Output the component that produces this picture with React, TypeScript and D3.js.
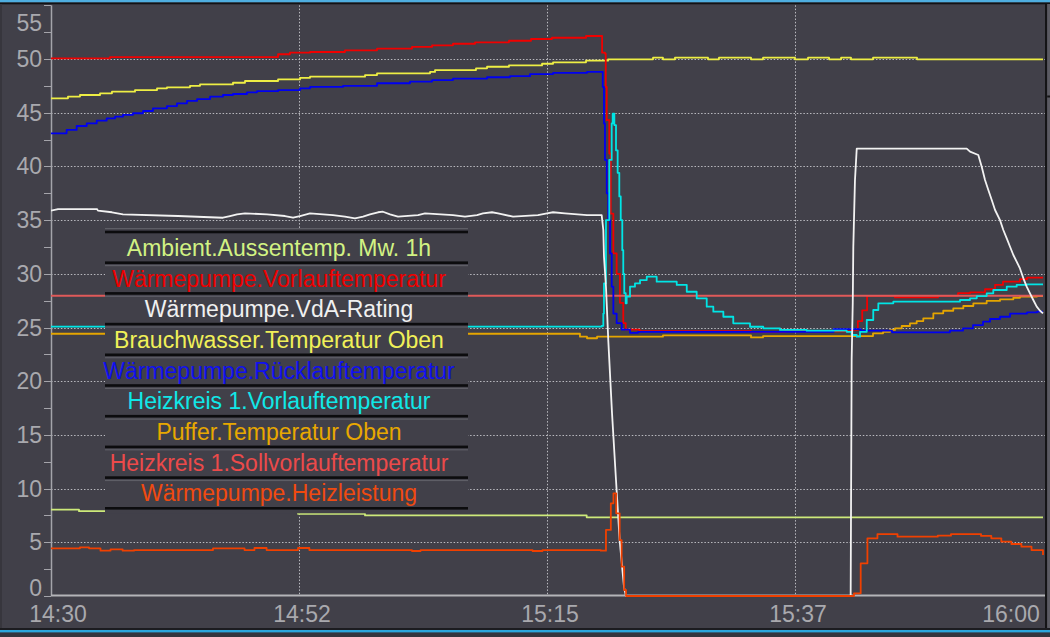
import * as d3 from "d3";
import React, { useEffect, useRef } from "react";

// time in minutes after 14:30, value
const timeTicks = [0, 22.5, 45, 67.5, 90];
const timeLabels = ["14:30", "14:52", "15:15", "15:37", "16:00"];
const valueTicks = [0, 5, 10, 15, 20, 25, 30, 35, 40, 45, 50, 55];
const minorTicks = d3.range(0, 55.1, 2.5);

const ambient = [
  [0, 8.05], [2.54, 7.9], [22.41, 7.65], [28.49, 7.5], [48.6, 7.33], [90, 7.33],
];

const wpVorlauf = [
  [0, 50.05], [5.35, 50.18], [20.6, 50.44], [21.68, 50.59], [23.5, 50.65], [26.67, 50.81],
  [29.58, 50.96], [32.75, 51.12], [34.57, 51.27], [36.47, 51.42], [38.47, 51.55], [41.55, 51.7],
  [43.55, 51.86], [45.45, 51.98], [48.54, 52.14], [50.0, 50.59], [50.26, 50.5], [50.33, 47.4],
  [50.42, 44.3], [50.65, 41.2], [50.78, 35.6], [51.02, 31.9], [51.32, 30.0], [51.62, 27.3],
  [51.92, 25.4], [52.14, 24.8], [53.4, 24.67], [63.5, 24.58], [66.6, 24.65], [72.6, 24.8],
  [72.76, 24.77], [73.2, 25.6], [73.6, 26.6], [74.04, 27.95], [76.57, 27.8], [80.47, 27.95],
  [82.29, 28.2], [83.38, 28.27], [84.74, 28.56], [85.65, 28.96], [86.37, 29.27], [87.91, 29.5],
  [88.55, 29.64], [90, 29.64],
];

const vdaRating = [
  [0, 35.88], [0.64, 36.03], [4.17, 36.03], [4.26, 35.88], [5.53, 35.73], [6.53, 35.54],
  [11.52, 35.38], [15.6, 35.22], [16.24, 35.38], [16.88, 35.54], [17.6, 35.63], [19.6, 35.54],
  [21.23, 35.38], [21.96, 35.22], [22.59, 35.38], [23.5, 35.63], [25.58, 35.47], [26.67, 35.32],
  [27.58, 35.17], [28.31, 35.32], [28.94, 35.54], [29.67, 35.73], [30.12, 35.78], [30.76, 35.54],
  [31.48, 35.32], [33.3, 35.47], [33.93, 35.63], [36.47, 35.47], [37.56, 35.32], [38.65, 35.47],
  [39.19, 35.63], [40.01, 35.73], [40.56, 35.63], [41.92, 35.32], [44.18, 35.47], [45.0, 35.63],
  [45.55, 35.73], [46.63, 35.63], [48.63, 35.47], [49.96, 35.47], [50.11, 34.08], [50.17, 31.6],
  [50.35, 28.8], [50.47, 26.0], [50.56, 23.8], [50.9, 17.0], [51.26, 10.8], [51.59, 5.2],
  [51.99, 0.8], [52.17, 0], [72.55, 0], [72.64, 22.0], [72.74, 27.3], [72.79, 32.5],
  [72.94, 38.7], [73.1, 41.65], [83.08, 41.65], [83.38, 41.37], [84.13, 41.06], [84.44, 39.97],
  [84.74, 38.73], [85.04, 37.8], [85.35, 36.87], [85.65, 35.94], [86.1, 35.0], [86.4, 34.08],
  [86.71, 33.3], [87.01, 32.52], [87.31, 31.75], [87.61, 31.13], [87.91, 30.5], [88.22, 29.58],
  [88.52, 28.8], [88.82, 28.18], [89.12, 27.56], [89.43, 26.94], [89.73, 26.56], [90, 26.32],
];

const brauchwasser = [
  [0, 46.34], [1.54, 46.5], [2.63, 46.65], [4.45, 46.8], [5.53, 46.96], [7.62, 47.11],
  [9.62, 47.27], [10.52, 47.36], [12.61, 47.5], [13.52, 47.63], [16.51, 47.79], [17.6, 47.95],
  [20.6, 48.1], [22.59, 48.25], [23.5, 48.35], [28.49, 48.5], [29.58, 48.67], [34.39, 48.8],
  [34.84, 48.97], [38.56, 49.13], [39.56, 49.28], [41.55, 49.4], [44.55, 49.56], [45.55, 49.69],
  [48.54, 49.84], [50.54, 49.97], [54.62, 50.12], [55.52, 49.97], [56.61, 50.12], [59.61, 49.97],
  [60.6, 50.12], [63.51, 49.97], [64.6, 50.12], [67.5, 49.97], [68.68, 50.12], [70.59, 49.97],
  [71.68, 50.12], [72.58, 49.97], [74.58, 50.12], [78.57, 49.97], [90, 49.97],
];

const wpRuecklauf = [
  [0, 43.08], [1.42, 43.4], [2.33, 43.76], [3.24, 44.0], [4.15, 44.26], [5.05, 44.48],
  [5.81, 44.63], [6.53, 44.8], [7.44, 44.95], [8.35, 45.16], [9.25, 45.41], [10.52, 45.62],
  [11.43, 45.87], [12.34, 46.1], [13.25, 46.27], [14.43, 46.49], [15.6, 46.65], [16.51, 46.74],
  [17.78, 46.9], [18.69, 47.0], [20.6, 47.1], [22.59, 47.27], [23.5, 47.4], [26.49, 47.5],
  [29.58, 47.74], [32.57, 47.9], [34.57, 48.04], [36.47, 48.17], [39.56, 48.3], [41.64, 48.4],
  [43.46, 48.6], [45.55, 48.7], [48.63, 48.8], [50.06, 47.4], [50.17, 44.0], [50.26, 40.6],
  [50.42, 37.5], [50.56, 35.0], [50.72, 31.9], [50.87, 28.8], [51.02, 26.3], [51.32, 25.4],
  [51.78, 24.8], [52.53, 24.5], [53.26, 24.6], [71.0, 24.85], [73.46, 24.7], [76.3, 24.55],
  [81.56, 24.7], [82.74, 24.92], [83.65, 25.23], [84.56, 25.54], [85.19, 25.79], [86.1, 26.0],
  [87.01, 26.3], [88.55, 26.4], [89.46, 26.47], [90, 26.47],
];

const hk1Vorlauf = [
  [0, 25.08], [49.96, 25.15], [50.11, 26.3], [50.17, 29.1], [50.35, 35.0], [50.65, 40.6],
  [50.87, 44.0], [50.96, 44.9], [51.11, 43.85], [51.26, 41.5], [51.41, 39.4], [51.56, 37.2],
  [51.69, 35.0], [51.83, 32.2], [51.92, 30.0], [52.01, 28.2], [52.14, 27.25], [52.23, 27.87],
  [52.53, 28.8], [52.98, 29.1], [53.44, 29.42], [54.05, 29.73], [54.95, 29.27], [56.77, 28.96],
  [57.68, 28.33], [58.58, 27.72], [59.49, 26.94], [60.09, 26.47], [61.0, 26.0], [61.9, 25.39],
  [63.42, 25.07], [64.62, 24.92], [66.14, 24.77], [68.56, 24.7], [72.19, 24.6], [72.64, 24.3],
  [73.1, 24.15], [73.4, 24.6], [74.01, 25.7], [74.6, 26.63], [75.06, 27.25], [76.42, 27.4],
  [82.47, 27.56], [83.38, 27.72], [83.99, 27.93], [84.89, 28.18], [85.49, 28.49], [86.71, 28.8],
  [87.61, 28.96], [88.52, 29.02], [90, 29.02],
];

const puffer = [
  [0, 24.42], [47.99, 24.15], [48.63, 24.0], [49.54, 24.15], [55.52, 24.27], [63.51, 24.08],
  [64.6, 24.2], [74.58, 24.46], [75.49, 24.6], [76.12, 24.77], [76.57, 24.92], [77.18, 25.14],
  [77.93, 25.39], [78.54, 25.6], [79.14, 25.85], [80.05, 26.32], [80.95, 26.56], [81.86, 26.78],
  [82.77, 27.0], [83.68, 27.25], [84.89, 27.47], [86.1, 27.62], [87.31, 27.77], [87.91, 27.87],
  [89.43, 27.93], [90, 27.93],
];

const hk1Soll = [
  [0, 27.95], [90, 27.95],
];

const heizleistung = [
  [0, 4.44], [2.63, 4.53], [3.45, 4.44], [4.49, 4.22], [5.4, 4.35], [6.5, 4.22], [7.53, 4.28],
  [14.7, 4.44], [17.56, 4.28], [18.46, 4.47], [19.56, 4.28], [22.41, 4.47], [23.44, 4.28],
  [32.75, 4.19], [33.53, 4.28], [43.69, 4.19], [44.59, 4.28], [49.88, 4.22], [50.35, 6.15],
  [50.79, 8.63], [51.03, 9.56], [51.28, 7.7], [51.59, 5.21], [51.77, 2.73], [52.0, 0.56],
  [52.17, 0], [72.43, 0], [72.85, 0.25], [73.46, 3.04], [74.07, 5.37], [74.98, 5.77],
  [76.8, 5.52], [80.45, 5.62], [81.65, 5.77], [84.38, 5.59], [85.31, 5.37], [86.22, 5.06],
  [87.13, 4.84], [88.04, 4.59], [88.96, 4.28], [90, 3.82],
];

const series = [
  { name: "Ambient.Aussentemp. Mw. 1h", color: "#cdea7a", text: "#d2f283", data: ambient, smooth: false },
  { name: "Wärmepumpe.Vorlauftemperatur", color: "#f00000", text: "#ee0000", data: wpVorlauf, smooth: false },
  { name: "Wärmepumpe.VdA-Rating", color: "#f2f2f2", text: "#f0f0f0", data: vdaRating, smooth: true },
  { name: "Brauchwasser.Temperatur Oben", color: "#eeee44", text: "#f0f058", data: brauchwasser, smooth: false },
  { name: "Wärmepumpe.Rücklauftemperatur", color: "#0000f0", text: "#1010f0", data: wpRuecklauf, smooth: false },
  { name: "Heizkreis 1.Vorlauftemperatur", color: "#00e5e5", text: "#10e8e8", data: hk1Vorlauf, smooth: false },
  { name: "Puffer.Temperatur Oben", color: "#e5a500", text: "#e8a800", data: puffer, smooth: false },
  { name: "Heizkreis 1.Sollvorlauftemperatur", color: "#e05a5a", text: "#ec4a4a", data: hk1Soll, smooth: false },
  { name: "Wärmepumpe.Heizleistung", color: "#f04000", text: "#f04a10", data: heizleistung, smooth: false },
];

// draw order (index into series)
const drawOrder = [0, 3, 6, 1, 7, 4, 5, 2, 8];

const W = 1050;
const H = 637;
const bg = "#414049";
const font = "'Liberation Sans', Arial, sans-serif";

const App = () => {
  const ref = useRef(null);

  useEffect(() => {
    const svg = d3.select(ref.current);
    svg.selectAll("*").remove();

    const x = d3.scaleLinear().domain([0, 90]).range([51, 1043]);
    const y = d3.scaleLinear().domain([0, 55]).range([596, 5.3]);
    const left = 51;
    const right = 1045;

    svg.append("rect").attr("width", W).attr("height", H).attr("fill", bg);

    // grid
    const grid = svg.append("g").attr("stroke", "#b9b9bf").attr("stroke-width", 1).attr("stroke-dasharray", "1.5,1.8");
    valueTicks.filter((v) => v > 0 && v < 55).forEach((v) => {
      grid.append("line").attr("x1", left).attr("x2", right).attr("y1", Math.round(y(v)) + 0.5).attr("y2", Math.round(y(v)) + 0.5);
    });
    timeTicks.slice(1, -1).forEach((t) => {
      grid.append("line").attr("x1", Math.round(x(t)) + 0.5).attr("x2", Math.round(x(t)) + 0.5).attr("y1", y(55)).attr("y2", y(0));
    });

    // axes lines
    svg.append("line").attr("x1", left + 0.5).attr("x2", left + 0.5).attr("y1", y(55)).attr("y2", y(0))
      .attr("stroke", "#a4a4aa").attr("stroke-width", 1.5);
    svg.append("line").attr("x1", left).attr("x2", right).attr("y1", y(0) - 0.5).attr("y2", y(0) - 0.5)
      .attr("stroke", "#b4b4b8").attr("stroke-width", 2);

    // y ticks
    svg.append("g").selectAll("line").data(minorTicks).enter().append("line")
      .attr("x1", 44).attr("x2", left).attr("y1", (d) => Math.round(y(d)) + 0.5).attr("y2", (d) => Math.round(y(d)) + 0.5)
      .attr("stroke", "#a4a4aa").attr("stroke-width", 1);

    svg.append("g").selectAll("text").data(valueTicks).enter().append("text")
      .attr("x", 42)
      .attr("y", (d) => Math.min(588, Math.max(23, y(d))) + 8)
      .attr("text-anchor", "end")
      .attr("font-family", font).attr("font-size", 23).attr("fill", "#a9a9ae")
      .text((d) => d);

    svg.append("g").selectAll("text").data(timeTicks).enter().append("text")
      .attr("x", (d) => Math.min(1011, Math.max(58, x(d) + 3)))
      .attr("y", 622)
      .attr("text-anchor", "middle")
      .attr("font-family", font).attr("font-size", 23).attr("fill", "#a9a9ae")
      .text((d, i) => timeLabels[i]);

    // series
    const clip = svg.append("clipPath").attr("id", "plot");
    clip.append("rect").attr("x", left).attr("y", 4).attr("width", right - left).attr("height", 594);

    const stepLine = d3.line().x((d) => x(d[0])).y((d) => y(d[1])).curve(d3.curveStepAfter);
    const plainLine = d3.line().x((d) => x(d[0])).y((d) => y(d[1]));
    const lines = svg.append("g").attr("clip-path", "url(#plot)");
    drawOrder.forEach((i) => {
      const s = series[i];
      lines.append("path")
        .datum(s.data)
        .attr("fill", "none")
        .attr("stroke", s.color)
        .attr("stroke-width", i === 7 ? 2 : 1.8)
        .attr("stroke-linejoin", "round")
        .attr("d", s.smooth ? plainLine : stepLine);
    });

    // legend
    const lx0 = 105;
    const lx1 = 468;
    const rowH = 30.7;
    const top = 232;
    const legend = svg.append("g");
    legend.append("rect").attr("x", lx0).attr("y", top - 4).attr("width", lx1 - lx0).attr("height", rowH * 9 + 9).attr("fill", bg);
    legend.append("rect").attr("x", lx0).attr("y", top - 4).attr("width", lx1 - lx0).attr("height", 1.2).attr("fill", "#5e5e66");
    d3.range(10).forEach((k) => {
      const by = top + k * rowH;
      legend.append("rect").attr("x", lx0).attr("y", by - 1.3).attr("width", lx1 - lx0).attr("height", 2.6).attr("fill", "#0c0c0e");
      if (k > 0 && k < 9) {
        legend.append("rect").attr("x", lx0).attr("y", by + 2.3).attr("width", lx1 - lx0).attr("height", 1.2).attr("fill", "#5e5e66");
      }
    });
    series.forEach((s, i) => {
      legend.append("text")
        .attr("x", 279)
        .attr("y", top + i * rowH + rowH / 2 + 8.5)
        .attr("text-anchor", "middle")
        .attr("font-family", font).attr("font-size", 23)
        .attr("fill", s.text)
        .text(s.name);
    });

    // window frame
    svg.append("rect").attr("x", 0).attr("y", 0).attr("width", W).attr("height", 2.5).attr("fill", "#4eaee0");
    svg.append("rect").attr("x", 0).attr("y", 2.5).attr("width", W).attr("height", 1.8).attr("fill", "#121214");
    svg.append("rect").attr("x", 0).attr("y", 4).attr("width", 2).attr("height", 624).attr("fill", "#37363d");
    svg.append("rect").attr("x", 1045).attr("y", 4).attr("width", 2.2).attr("height", 626).attr("fill", "#141416");
    svg.append("rect").attr("x", 1047.2).attr("y", 4).attr("width", 3).attr("height", 626).attr("fill", "#5a5a62");
    svg.append("rect").attr("x", 1047.2).attr("y", 95.5).attr("width", 3).attr("height", 2).attr("fill", "#141416");
    svg.append("rect").attr("x", 0).attr("y", 628).attr("width", W).attr("height", 2).attr("fill", "#1c1c20");
    svg.append("rect").attr("x", 0).attr("y", 630).attr("width", W).attr("height", 2.6).attr("fill", "#2aa6dc");
    svg.append("rect").attr("x", 0).attr("y", 632.6).attr("width", W).attr("height", 4.4).attr("fill", "#34353d");
  }, []);

  return (
    <div>
      <style>{"body{margin:0;background:#414049}"}</style>
      <svg ref={ref} width={W} height={H} style={{ display: "block" }} />
    </div>
  );
};

export default App;
